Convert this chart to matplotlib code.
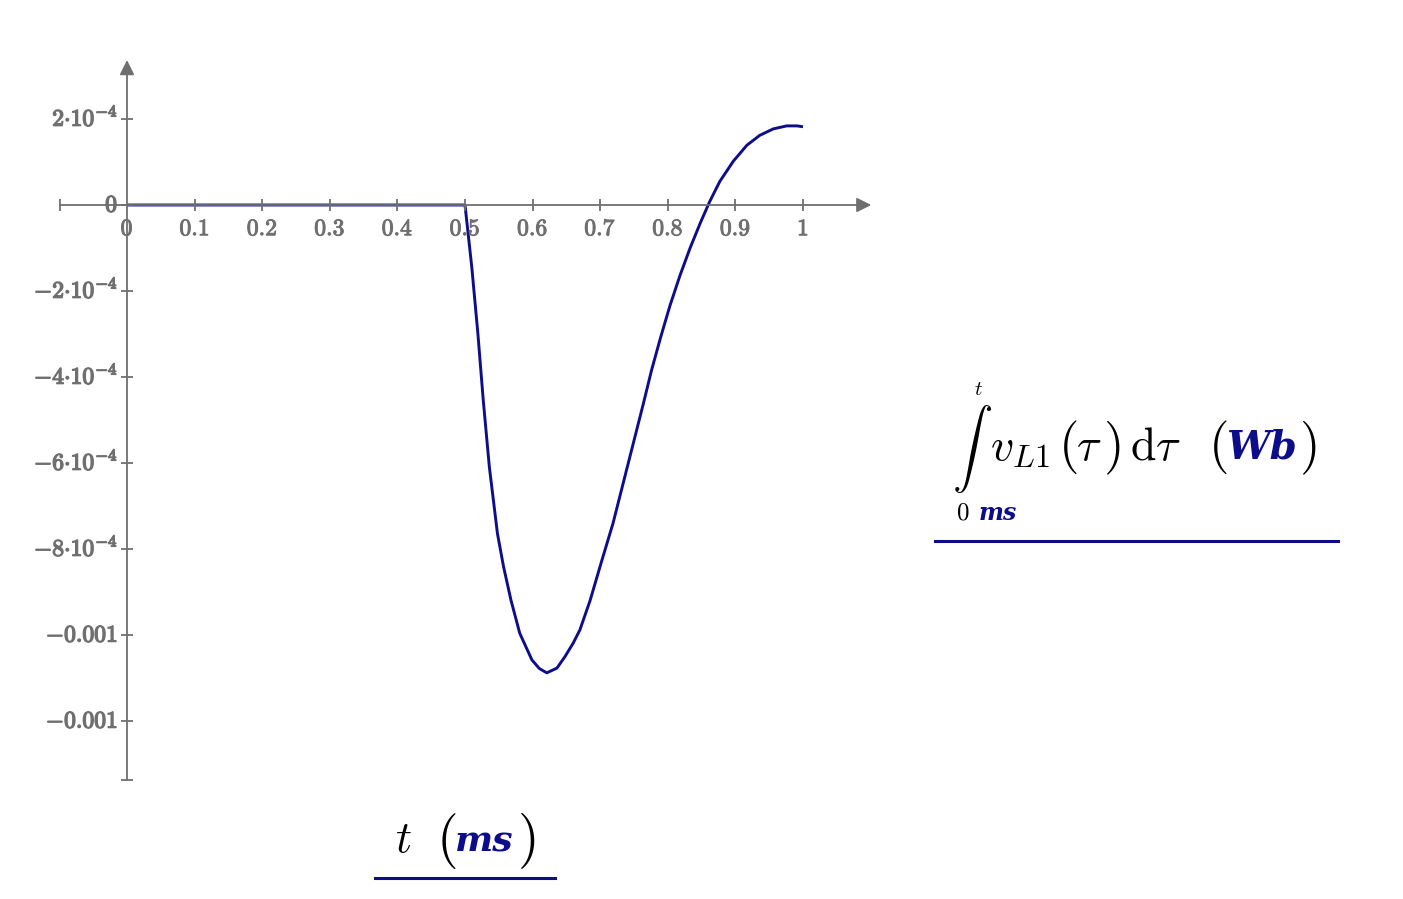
import numpy as np
import matplotlib
matplotlib.use('Agg')
import matplotlib.pyplot as plt
import matplotlib.patheffects as pe

plt.rcParams['mathtext.fontset'] = 'cm'

# datos: t en ms, flujo en Wb
t_ms = [0, 0.5, 0.510, 0.519, 0.527, 0.536, 0.548, 0.557, 0.568, 0.581, 0.599,
        0.610, 0.621, 0.636, 0.648, 0.660, 0.670, 0.685, 0.702, 0.719, 0.734,
        0.749, 0.764, 0.776, 0.789, 0.803, 0.818, 0.833, 0.848, 0.862, 0.877,
        0.897, 0.917, 0.936, 0.956, 0.976, 0.991, 1.0]
flux_e4 = [0, 0, -1.44, -2.98, -4.54, -6.09, -7.64, -8.41, -9.19, -9.96, -10.58,
           -10.78, -10.88, -10.77, -10.50, -10.19, -9.88, -9.20, -8.29, -7.40, -6.47,
           -5.54, -4.61, -3.84, -3.10, -2.35, -1.64, -1.00, -0.42, 0.08, 0.55,
           1.02, 1.39, 1.62, 1.77, 1.84, 1.84, 1.82]
flux = np.array(flux_e4) * 1e-4

x_ticks = [0.1, 0.2, 0.3, 0.4, 0.5, 0.6, 0.7, 0.8, 0.9, 1.0]
x_labels = ['0.1', '0.2', '0.3', '0.4', '0.5', '0.6', '0.7', '0.8', '0.9', '1']
y_ticks = [2e-4, 0, -2e-4, -4e-4, -6e-4, -8e-4, -1e-3, -1.2e-3]
y_labels = [r'$\mathbf{2{\cdot}10^{-4}}$', r'$\mathbf{0}$',
            r'$-\mathbf{2{\cdot}10^{-4}}$', r'$-\mathbf{4{\cdot}10^{-4}}$',
            r'$-\mathbf{6{\cdot}10^{-4}}$', r'$-\mathbf{8{\cdot}10^{-4}}$',
            r'$-\mathbf{0.001}$', r'$-\mathbf{0.001}$']

W, H = 1403, 899
GRAY = '#6f6f6f'
NAVY = '#0d0d8c'

fig = plt.figure(figsize=(W / 100, H / 100), dpi=100)
ax = fig.add_axes([50 / W, (H - 790) / H, 830 / W, 740 / H])
ax.set_xlim(-77 / 676, 753 / 676)
ax.set_ylim(-585 / 430000, 155 / 430000)
ax.axis('off')

# curva
ax.plot(t_ms, flux, color=NAVY, lw=2.1, zorder=2, solid_capstyle='butt',
        solid_joinstyle='round')

# ejes estilo Mathcad
arrow = dict(arrowstyle='-|>', color=GRAY, lw=1.3, mutation_scale=22, shrinkA=0, shrinkB=0)
ax.annotate('', xy=(1.101, 0), xytext=(-0.099, 0), arrowprops=arrow, zorder=3)
ax.annotate('', xy=(0, 3.37e-4), xytext=(0, -1.337e-3), arrowprops=arrow, zorder=3)
ax.plot([-0.099] + x_ticks, [0] * (len(x_ticks) + 1), ls='none', marker='|',
        ms=9, mew=1.3, color=GRAY, zorder=3)
ax.plot([0] * (len(y_ticks) + 1), y_ticks + [-1.337e-3], ls='none', marker='_',
        ms=9, mew=1.3, color=GRAY, zorder=3)

bold = [pe.withStroke(linewidth=0.7, foreground=GRAY)]
dotbold = [pe.withStroke(linewidth=1.0, foreground=GRAY)]
for xt, lab in zip([0] + x_ticks, ['0'] + x_labels):
    ax.annotate(r'$\mathbf{%s}$' % lab, (xt, 0), xytext=(0, -21.8), textcoords='offset points',
                ha='center', va='baseline', fontsize=17, color=GRAY, path_effects=bold)
for yt, lab in zip(y_ticks, y_labels):
    ax.annotate(lab, (0, yt), xytext=(-6.5, -4.8), textcoords='offset points',
                ha='right', va='baseline', fontsize=17, color=GRAY, path_effects=dotbold)


def put(x, y, s, size, color='black', **kw):
    fig.text(x / W, 1 - y / H, s, fontsize=size, color=color, ha='left', va='baseline', **kw)


unit_font = dict(family='DejaVu Serif', style='italic', weight='bold')

# etiqueta eje x
put(395, 852, r'$t$', 32)
put(436, 855, r'$($', 40)
put(455, 852, 'ms', 26, NAVY, **unit_font)
put(517, 855, r'$)$', 40)
fig.add_artist(plt.Line2D([375 / W, 555 / W], [1 - 878 / H] * 2, color=NAVY, lw=2.2))

# etiqueta eje y
put(952, 462, r'$\int$', 29)
put(974, 395, r'$t$', 15)
put(956, 520, r'$0$', 18)
put(979, 520, 'ms', 17, NAVY, **unit_font)
put(990, 460, r'$v_{L1}$', 33)
put(1058, 461, r'$($', 38)
put(1076, 460, r'$\tau$', 33)
put(1103, 461, r'$)$', 38)
put(1130, 460, r'$\mathrm{d}\tau$', 33)
put(1208, 461, r'$($', 38)
put(1226, 459, 'Wb', 28, NAVY, **unit_font)
put(1299, 461, r'$)$', 38)
fig.add_artist(plt.Line2D([935 / W, 1338 / W], [1 - 541 / H] * 2, color=NAVY, lw=2.2))

fig.savefig('out.png', dpi=100)
